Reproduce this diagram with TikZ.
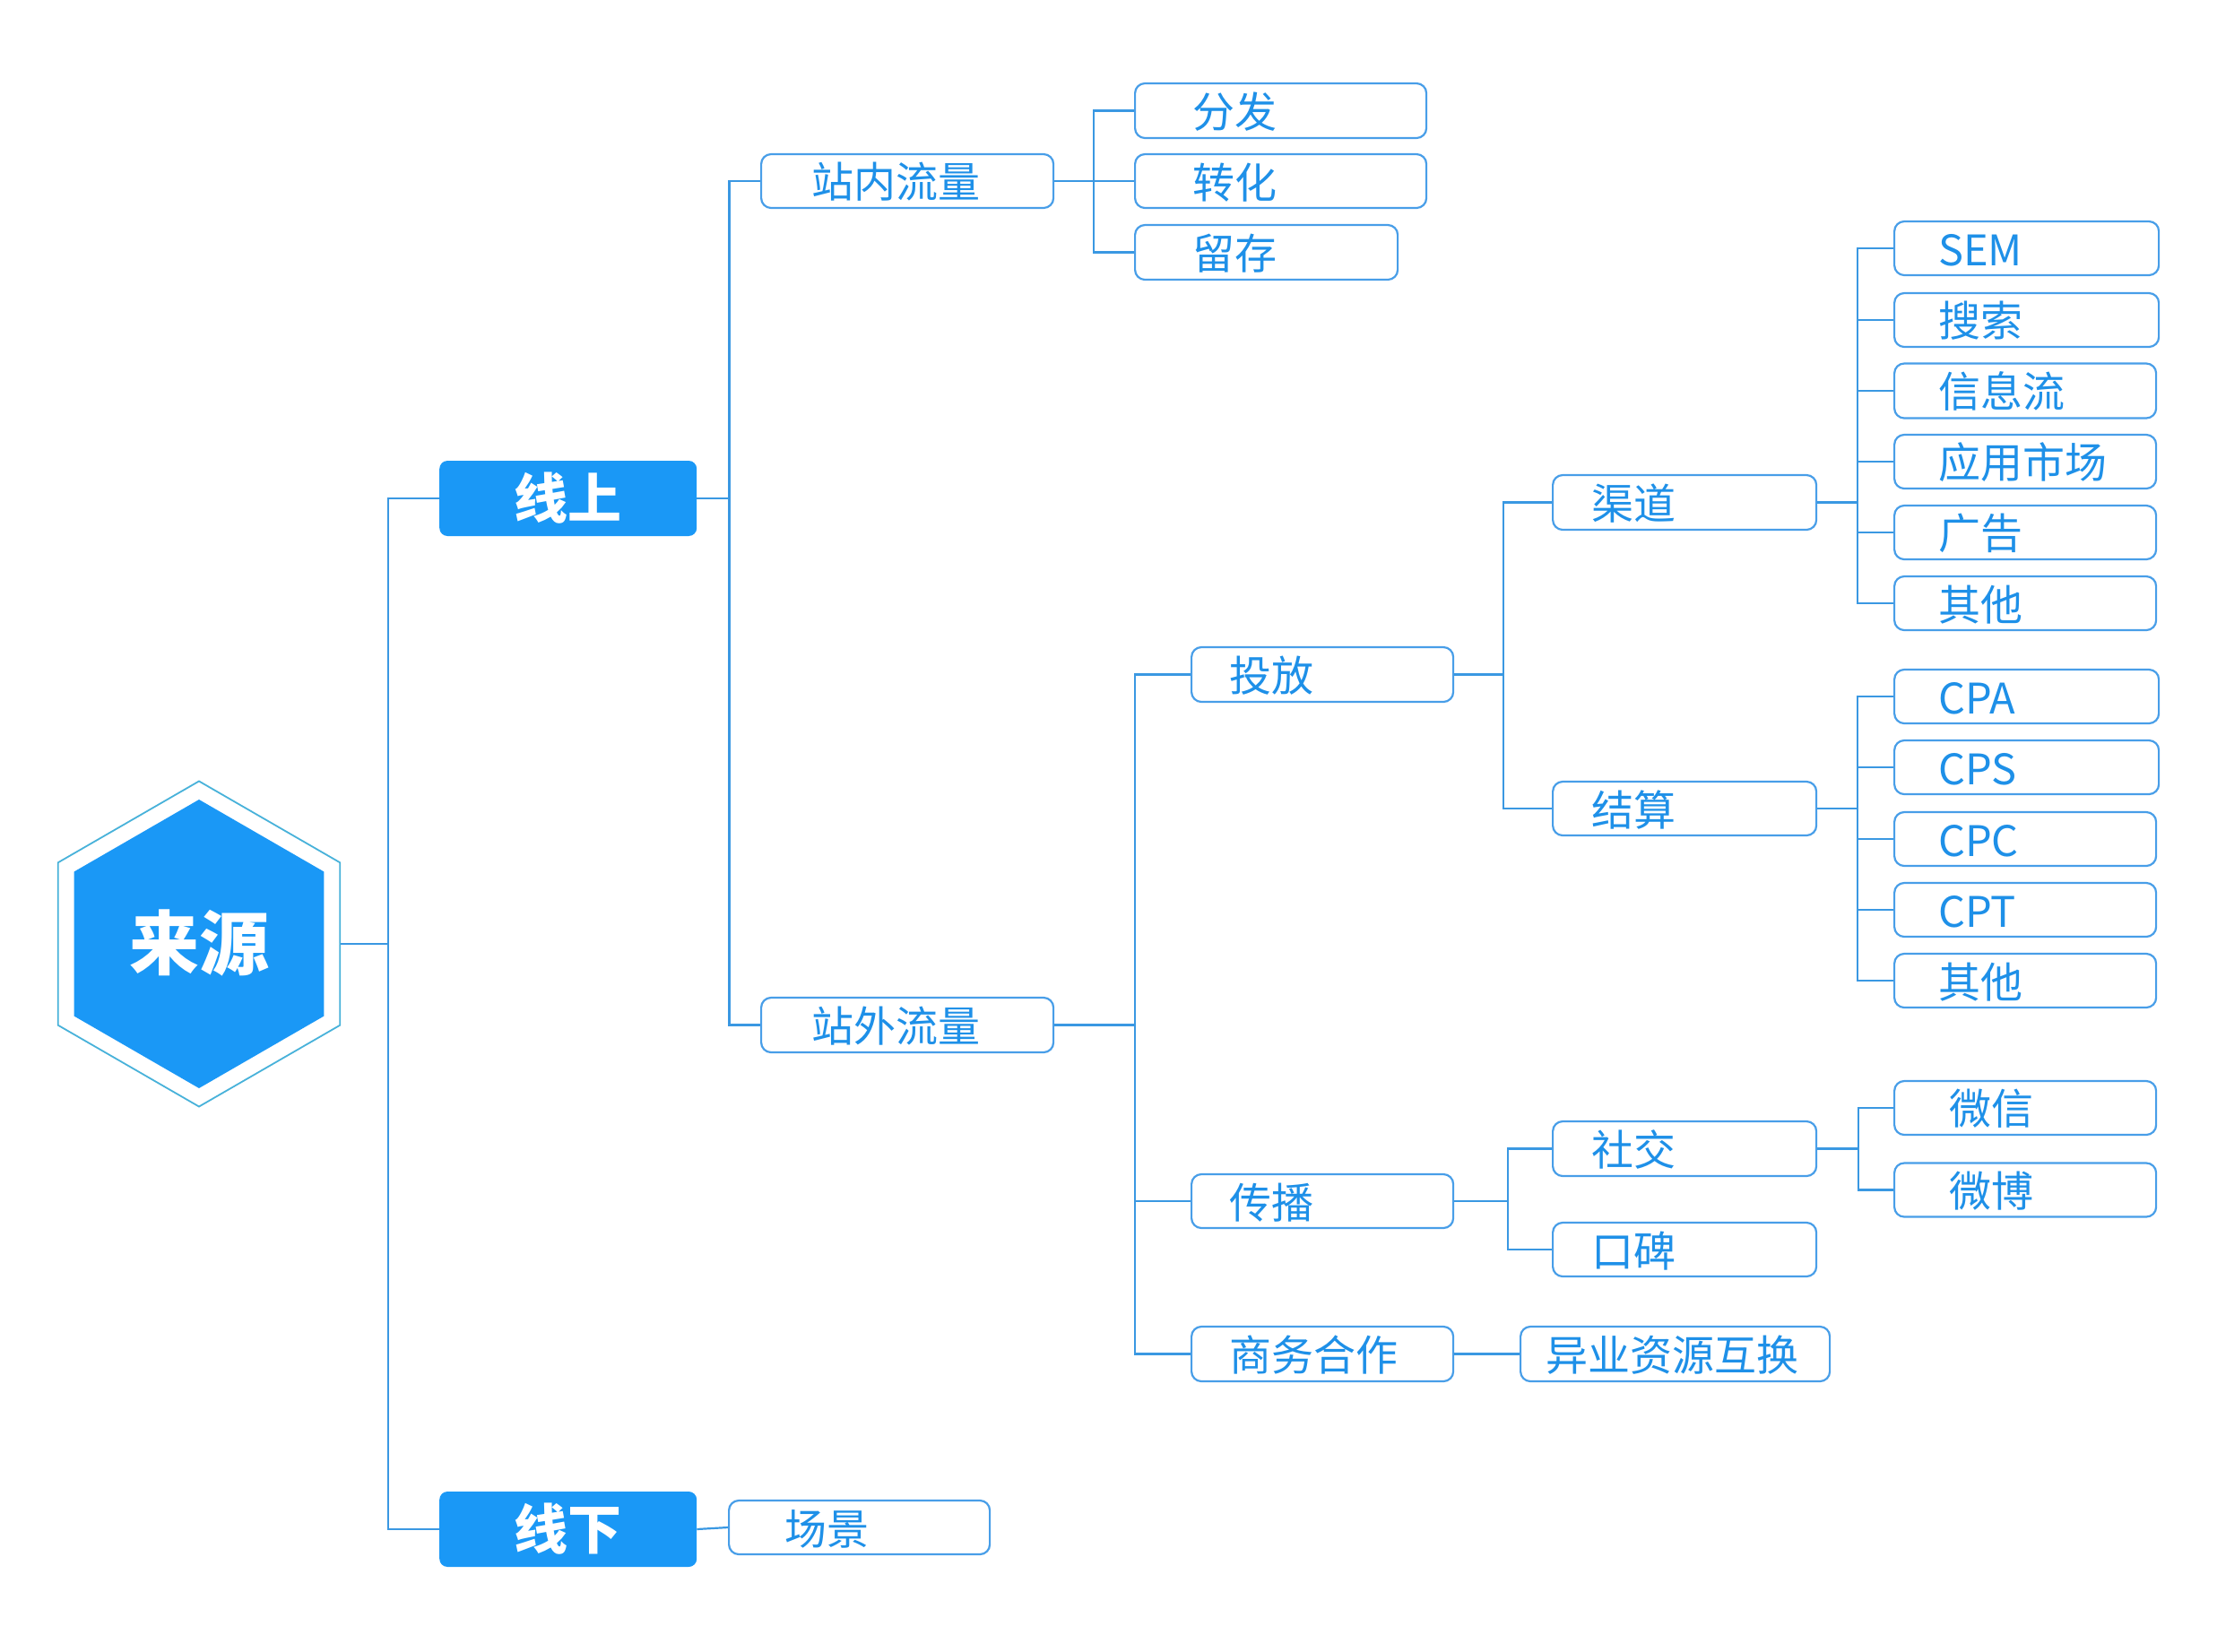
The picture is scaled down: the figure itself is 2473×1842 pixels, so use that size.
\documentclass[tikz,border=0pt]{standalone}
\usepackage{fontspec}
\newfontfamily\cjk{Noto Sans CJK SC}
\usetikzlibrary{calc}
\definecolor{fillblue}{RGB}{26,152,246}
\definecolor{linec}{RGB}{58,152,226}
\definecolor{boxline}{RGB}{72,158,232}
\definecolor{textblue}{RGB}{30,144,232}
\definecolor{hexline}{RGB}{72,178,218}
\newcommand\cs{\rule[-0.12em]{0pt}{0.88em}}
\newcommand\cst{\rule[-0.06em]{0pt}{0.95em}}
\newcommand\bx[7]{\pgfmathsetmacro\tw{#4-2*#6}\node[box, text width=\tw pt, inner xsep=#6pt, minimum height=#5pt] (#1) at (#2,#3) {\cst #7};}
\begin{document}
\begin{tikzpicture}[x=1pt,y=-1pt,
  box/.style={draw=boxline, line width=2.2pt, rounded corners=11pt, fill=white, text=textblue,
    font=\cjk\fontsize{47}{56}\selectfont, align=left, inner ysep=0pt, anchor=west},
  mainbox/.style={fill=fillblue, rounded corners=9pt, text=white,
    font=\cjk\bfseries\fontsize{60}{70}\selectfont, minimum width=287pt, minimum height=84pt,
    anchor=west, inner sep=0pt},
  conn/.style={draw=linec, line width=2.2pt}]
\useasboundingbox (0,0) rectangle (2473,1842);
\fill[white] (0,0) rectangle (2473,1842);
% hexagon
\draw[hexline, line width=1.8pt] (222,1053) +(90:181.5pt) -- +(150:181.5pt) -- +(210:181.5pt) -- +(270:181.5pt) -- +(330:181.5pt) -- +(30:181.5pt) -- cycle;
\fill[fillblue] (222,1053) +(90:161pt) -- +(150:161pt) -- +(210:161pt) -- +(270:161pt) -- +(330:161pt) -- +(30:161pt) -- cycle;
\node[text=white, font=\cjk\bfseries\fontsize{78}{90}\selectfont, inner sep=0pt] (src) at (222,1053) {\cs 来源};
\coordinate (hexE) at (380,1053);
% level 1
\node[mainbox] (on) at (490,556) {\cs 线上};
\node[mainbox] (off) at (490,1706) {\cs 线下};
% level 2
\bx{zn}{848}{202}{326}{60}{56}{站内流量}
\bx{zw}{848}{1143.5}{326}{61}{56}{站外流量}
\bx{cj}{812}{1704}{291}{60}{62}{场景}
% level 3
\bx{ff}{1265}{123.5}{325}{61}{64}{分发}
\bx{zh}{1265}{202}{325}{60}{64}{转化}
\bx{lc}{1265}{281.5}{293}{61}{64}{留存}
\bx{tf}{1328}{752.5}{292}{61}{42}{投放}
\bx{cb}{1328}{1340}{292}{60}{42}{传播}
\bx{sw}{1328}{1510.5}{292}{61}{42}{商务合作}
% level 4
\bx{qd}{1731}{560.5}{294}{61}{43}{渠道}
\bx{js}{1731}{902}{294}{60}{43}{结算}
\bx{sj}{1731}{1281.5}{294}{61}{43}{社交}
\bx{kb}{1731}{1394}{294}{60}{43}{口碑}
\bx{yy}{1695}{1510.5}{345}{61}{28}{异业资源互换}
% level 5
\bx{sem}{2112}{277}{295}{60}{49}{SEM}
\bx{ss}{2112}{357}{295}{60}{49}{搜索}
\bx{xx}{2112}{436}{292}{61}{49}{信息流}
\bx{yd}{2112}{515}{292}{60}{49}{应用市场}
\bx{gg}{2112}{594}{292}{60}{49}{广告}
\bx{qt}{2112}{673}{292}{60}{49}{其他}
\bx{cpa}{2112}{777}{295}{60}{49}{CPA}
\bx{cps}{2112}{856}{295}{60}{49}{CPS}
\bx{cpc}{2112}{936}{292}{60}{49}{CPC}
\bx{cpt}{2112}{1015}{292}{60}{49}{CPT}
\bx{qt2}{2112}{1094}{292}{60}{49}{其他}
\bx{wx}{2112}{1236}{292}{60}{61}{微信}
\bx{wb}{2112}{1327.5}{292}{60}{61}{微博}
% connectors
\draw[conn] (hexE) -- ++(53,0) |- (on.west);
\draw[conn] (hexE) -- ++(53,0) |- (off.west);
\draw[conn] (off.east) -- (cj.west);
\draw[conn] (on.east) -- ++(36,0) |- (zn.west);
\draw[conn] (on.east) -- ++(36,0) |- (zw.west);
\foreach \c in {ff,zh,lc} \draw[conn] (zn.east) -- ++(44,0) |- (\c.west);
\foreach \c in {tf,cb,sw} \draw[conn] (zw.east) -- ++(90,0) |- (\c.west);
\foreach \c in {qd,js} \draw[conn] (tf.east) -- ++(55,0) |- (\c.west);
\foreach \c in {sj,kb} \draw[conn] (cb.east) -- ++(60,0) |- (\c.west);
\draw[conn] (sw.east) -- (yy.west);
\foreach \c in {sem,ss,xx,yd,gg,qt} \draw[conn] (qd.east) -- ++(45,0) |- (\c.west);
\foreach \c in {cpa,cps,cpc,cpt,qt2} \draw[conn] (js.east) -- ++(45,0) |- (\c.west);
\foreach \c in {wx,wb} \draw[conn] (sj.east) -- ++(46,0) |- (\c.west);
\end{tikzpicture}
\end{document}
